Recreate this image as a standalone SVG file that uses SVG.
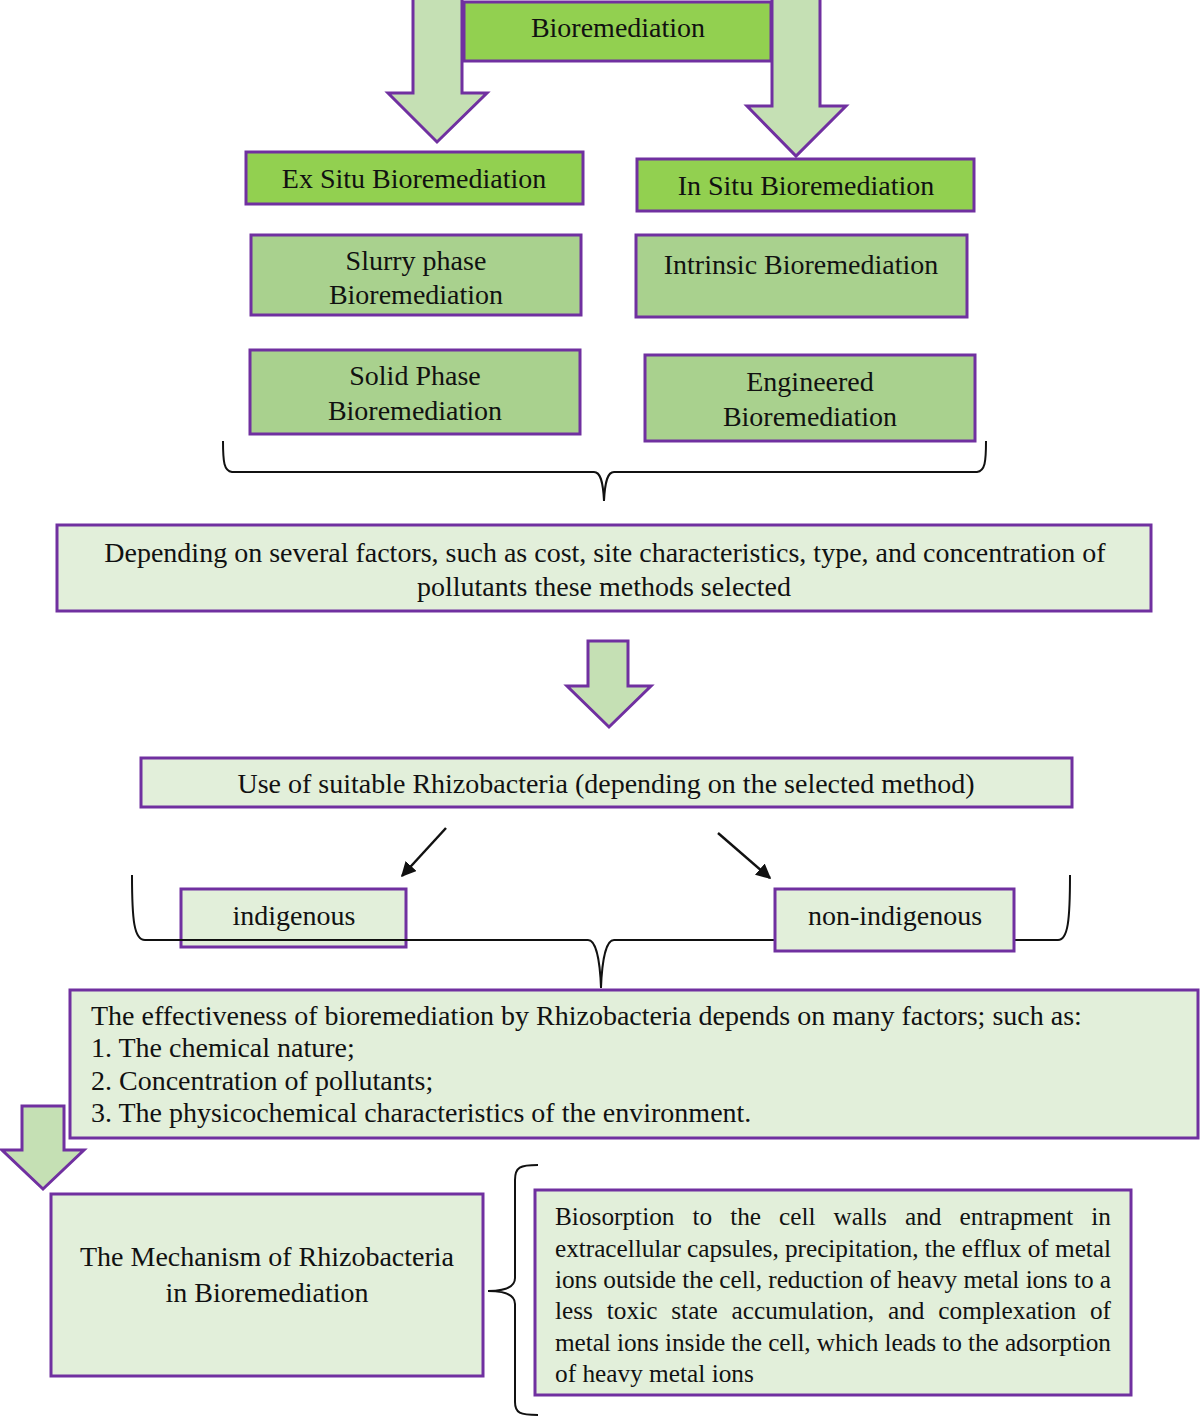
<svg xmlns="http://www.w3.org/2000/svg" width="1200" height="1417" viewBox="0 0 1200 1417">
<defs>
<style>
text{font-family:"Liberation Serif","Times New Roman",serif;fill:#111;}
.t26{font-size:28px;}
.t24{font-size:25.3px;}
.c{text-anchor:middle;}
.b1{fill:#92D050;stroke:#7030A0;stroke-width:3;}
.b2{fill:#A9D18E;stroke:#7030A0;stroke-width:3;}
.b3{fill:#E2EFDA;stroke:#7030A0;stroke-width:3;}
.arr{fill:#C5E0B4;stroke:#7030A0;stroke-width:3;stroke-linejoin:miter;}
.br{fill:none;stroke:#111;stroke-width:2;}
.ln{stroke:#111;stroke-width:2.5;fill:none;}
</style>
<marker id="ah" viewBox="0 0 10 10" refX="9" refY="5" markerWidth="6" markerHeight="6" orient="auto" markerUnits="strokeWidth">
<path d="M0,0 L10,5 L0,10 z" fill="#111"/>
</marker>
</defs>

<g id="connectors">
<path class="arr" d="M413,-2 L462,-2 L462,93 L487,93 L437,142 L388,93 L413,93 Z"/>
<path class="arr" d="M772,-2 L820,-2 L820,106 L846,106 L796,156 L747,106 L772,106 Z"/>
<path class="br" d="M223,441 C223,462 224,471 232,472 L594,472 C600,472 603,480 604,501 C605,480 608,472 614,472 L977,472 C985,471 986,462 986,441"/>
<path class="arr" d="M588,641 L628,641 L628,686 L651,686 L609,727 L567,686 L588,686 Z"/>
<line class="ln" x1="446" y1="828" x2="402" y2="876" marker-end="url(#ah)"/>
<line class="ln" x1="718" y1="833" x2="770" y2="878" marker-end="url(#ah)"/>
<path class="arr" d="M22,1106 L64,1106 L64,1150 L84,1150 L43,1189 L2,1150 L22,1150 Z"/>
<path class="br" d="M538,1165 C520,1165 515,1167 515,1180 L515,1278 C515,1287 505,1291 488,1291 C505,1291 515,1295 515,1304 L515,1402 C515,1413 520,1415 538,1415"/>
</g>

<g id="bioremediation">
<rect class="b1" x="464" y="2" width="307" height="59"/>
<text class="t26 c" x="618" y="37">Bioremediation</text>
</g>
<g id="ex-situ">
<rect class="b1" x="246" y="152" width="337" height="52"/>
<text class="t26 c" x="414" y="188">Ex Situ Bioremediation</text>
</g>
<g id="in-situ">
<rect class="b1" x="637" y="159" width="337" height="52"/>
<text class="t26 c" x="806" y="195">In Situ Bioremediation</text>
</g>
<g id="slurry">
<rect class="b2" x="251" y="235" width="330" height="80"/>
<text class="t26 c" x="416" y="270">Slurry phase</text>
<text class="t26 c" x="416" y="304">Bioremediation</text>
</g>
<g id="intrinsic">
<rect class="b2" x="636" y="235" width="331" height="82"/>
<text class="t26 c" x="801" y="274">Intrinsic Bioremediation</text>
</g>
<g id="solid">
<rect class="b2" x="250" y="350" width="330" height="84"/>
<text class="t26 c" x="415" y="385">Solid Phase</text>
<text class="t26 c" x="415" y="420">Bioremediation</text>
</g>
<g id="engineered">
<rect class="b2" x="645" y="355" width="330" height="86"/>
<text class="t26 c" x="810" y="391">Engineered</text>
<text class="t26 c" x="810" y="426">Bioremediation</text>
</g>
<g id="depending">
<rect class="b3" x="57" y="525" width="1094" height="86"/>
<text class="t26 c" x="605" y="562">Depending on several factors, such as cost, site characteristics, type, and concentration of</text>
<text class="t26 c" x="604" y="596">pollutants these methods selected</text>
</g>
<g id="use-rhizobacteria">
<rect class="b3" x="141" y="758" width="931" height="49"/>
<text class="t26 c" x="606" y="793">Use of suitable Rhizobacteria (depending on the selected method)</text>
</g>
<g id="indigenous">
<rect class="b3" x="181" y="889" width="225" height="58"/>
<text class="t26 c" x="294" y="925">indigenous</text>
</g>
<path class="br" d="M132,875 C132,920 134,940 145,940 L588,940 C596,940 600,960 601,988 C602,960 606,940 614,940 L1058,940 C1068,940 1070,920 1070,875"/>
<g id="non-indigenous">
<rect class="b3" x="775" y="889" width="239" height="62"/>
<text class="t26 c" x="895" y="925">non-indigenous</text>
</g>
<g id="effectiveness">
<rect class="b3" x="70" y="990" width="1128" height="148"/>
<text class="t26" x="91" y="1025">The effectiveness of bioremediation by Rhizobacteria depends on many factors; such as:</text>
<text class="t26" x="91" y="1057">1. The chemical nature;</text>
<text class="t26" x="91" y="1090">2. Concentration of pollutants;</text>
<text class="t26" x="91" y="1122">3. The physicochemical characteristics of the environment.</text>
</g>
<g id="mechanism">
<rect class="b3" x="51" y="1194" width="432" height="182"/>
<text class="t26 c" x="267" y="1266">The Mechanism of Rhizobacteria</text>
<text class="t26 c" x="267" y="1302">in Bioremediation</text>
</g>
<g id="biosorption">
<rect class="b3" x="535" y="1190" width="596" height="205"/>
<text class="t24" x="555" y="1225" word-spacing="11.7" textLength="556" lengthAdjust="spacing">Biosorption to the cell walls and entrapment in</text>
<text class="t24" x="555" y="1257" textLength="556" lengthAdjust="spacing">extracellular capsules, precipitation, the efflux of metal</text>
<text class="t24" x="555" y="1288" textLength="556" lengthAdjust="spacing">ions outside the cell, reduction of heavy metal ions to a</text>
<text class="t24" x="555" y="1319" word-spacing="7.5" textLength="556" lengthAdjust="spacing">less toxic state accumulation, and complexation of</text>
<text class="t24" x="555" y="1351" textLength="556" lengthAdjust="spacing">metal ions inside the cell, which leads to the adsorption</text>
<text class="t24" x="555" y="1382">of heavy metal ions</text>
</g>
</svg>
